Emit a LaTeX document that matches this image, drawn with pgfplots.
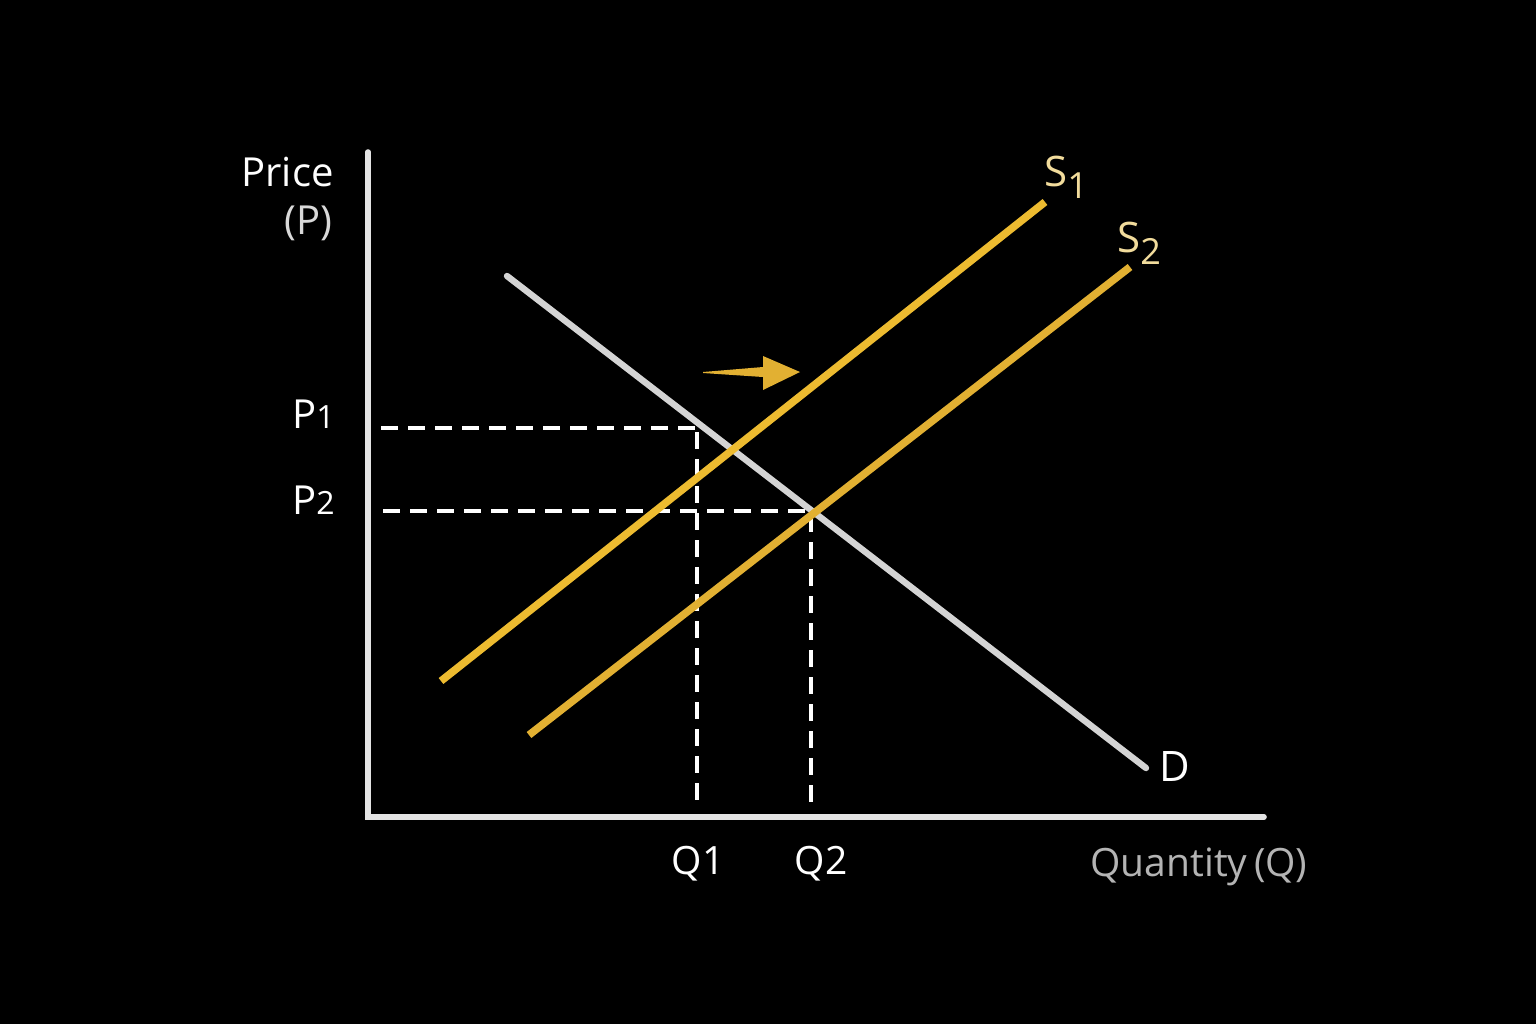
\documentclass[border=0pt]{standalone}
\usepackage{pgfplots}
\pgfplotsset{compat=1.18}
\usepackage{fontspec}
\setmainfont{Open Sans}
\definecolor{sone}{HTML}{EDBB30}
\definecolor{stwo}{HTML}{E2B032}
\definecolor{slab}{HTML}{F2DC9C}
\definecolor{dgray}{HTML}{D4D4D4}
\definecolor{axgray}{HTML}{E4E4E4}
\definecolor{qgray}{HTML}{B4B4B4}
\begin{document}
\begin{tikzpicture}
\fill[black] (0,0) rectangle (768pt,512pt);
\begin{axis}[at={(0,0)},anchor=south west,scale only axis,width=768pt,height=512pt,
  xmin=0,xmax=1536,ymin=0,ymax=1024,y dir=reverse,hide axis,clip=false]
% axes
\addplot[axgray,line width=2.8pt,line cap=round] coordinates {(368,152) (368,817) (1264,817)};
% dashed guides
\addplot[white,line width=2.2pt,dash pattern=on 8.5pt off 5pt] coordinates {(381,428) (697,428)};
\addplot[white,line width=2.2pt,dash pattern=on 8.5pt off 5pt] coordinates {(383,511) (811,511)};
\addplot[white,line width=2.2pt,dash pattern=on 8.5pt off 5pt] coordinates {(697,432) (697,806)};
\addplot[white,line width=2.2pt,dash pattern=on 8.5pt off 5pt] coordinates {(811,515) (811,806)};
% demand
\addplot[dgray,line width=3.2pt,line cap=round] coordinates {(507,276) (1146,768)};
% supply
\addplot[sone,line width=3.8pt] coordinates {(441,681) (1045,202)};
\addplot[stwo,line width=3.8pt] coordinates {(529,735) (1130,267)};
% arrow
\addplot[fill=stwo,draw=none] coordinates {(703,372) (763,367) (763,356) (800,372) (763,390) (763,377) (703,373)} -- cycle;
% labels
\node[anchor=base east,inner sep=0pt,white,font=\fontsize{20}{24}\selectfont] at (axis cs:334,186) {Price};
\node[anchor=base east,inner sep=0pt,white!85!black,font=\fontsize{20}{24}\selectfont] at (axis cs:333,234) {(P)};
\node[anchor=base west,white,font=\fontsize{20}{24}\selectfont,inner sep=0pt] at (axis cs:292,428) {P{\fontsize{16}{20}\selectfont 1}};
\node[anchor=base west,white,font=\fontsize{20}{24}\selectfont,inner sep=0pt] at (axis cs:292,514) {P{\fontsize{16}{20}\selectfont 2}};
\node[anchor=base,white,font=\fontsize{19.5}{24}\selectfont] at (axis cs:698,874) {Q1};
\node[anchor=base,white,font=\fontsize{19.5}{24}\selectfont] at (axis cs:821,874) {Q2};
\node[anchor=base,qgray,font=\fontsize{19.5}{24}\selectfont] at (axis cs:1199,876) {Quantity\,(Q)};
\node[anchor=base west,inner sep=0pt,slab,font=\fontsize{21}{26}\selectfont] at (axis cs:1044,186) {S\raisebox{-6pt}{\fontsize{18}{22}\selectfont 1}};
\node[anchor=base west,inner sep=0pt,slab,font=\fontsize{21}{26}\selectfont] at (axis cs:1117,252) {S\raisebox{-6pt}{\fontsize{18}{22}\selectfont 2}};
\node[anchor=base west,inner sep=0pt,white,font=\fontsize{21}{26}\selectfont] at (axis cs:1159,781) {D};
\end{axis}
\end{tikzpicture}
\end{document}
